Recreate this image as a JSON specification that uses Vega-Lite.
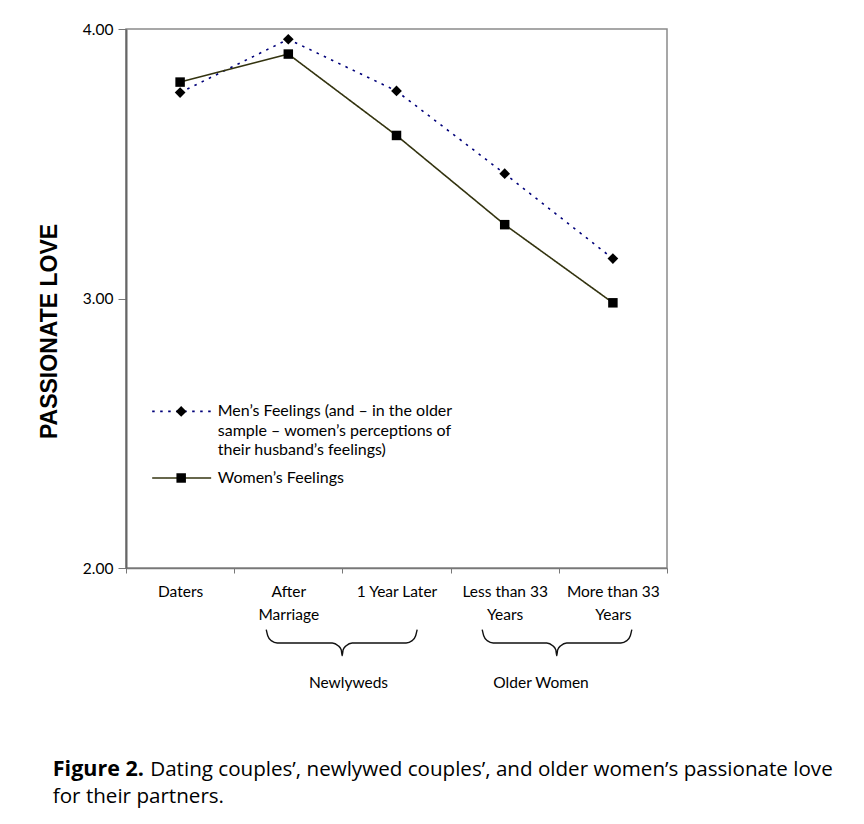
{
  "$schema": "https://vega.github.io/schema/vega-lite/v6.json",
  "width": 541,
  "height": 539,
  "autosize": {"type": "none"},
  "padding": {"left": 126, "top": 29, "right": 197, "bottom": 256},
  "background": "white",
  "config": {
    "view": {"stroke": "#8a8a8a", "strokeWidth": 1.5},
    "font": "Lato"
  },
  "datasets": {
    "series": [
      {"pos": 0, "cat": "Daters", "series": "Men", "val": 3.764},
      {"pos": 1, "cat": "After Marriage", "series": "Men", "val": 3.962},
      {"pos": 2, "cat": "1 Year Later", "series": "Men", "val": 3.770},
      {"pos": 3, "cat": "Less than 33 Years", "series": "Men", "val": 3.463},
      {"pos": 4, "cat": "More than 33 Years", "series": "Men", "val": 3.148},
      {"pos": 0, "cat": "Daters", "series": "Women", "val": 3.803},
      {"pos": 1, "cat": "After Marriage", "series": "Women", "val": 3.907},
      {"pos": 2, "cat": "1 Year Later", "series": "Women", "val": 3.605},
      {"pos": 3, "cat": "Less than 33 Years", "series": "Women", "val": 3.274},
      {"pos": 4, "cat": "More than 33 Years", "series": "Women", "val": 2.984}
    ],
    "legendLines": [
      {"pos": -0.258, "val": 2.581, "series": "Men"},
      {"pos": 0.287, "val": 2.581, "series": "Men"},
      {"pos": -0.258, "val": 2.334, "series": "Women"},
      {"pos": 0.287, "val": 2.334, "series": "Women"}
    ],
    "legendMarks": [
      {"pos": 0.010, "val": 2.581, "series": "Men"},
      {"pos": 0.010, "val": 2.334, "series": "Women"}
    ],
    "legendText": [
      {"pos": 0.348, "val": 2.581, "text": "Men’s Feelings (and – in the older"},
      {"pos": 0.348, "val": 2.510, "text": "sample – women’s perceptions of"},
      {"pos": 0.348, "val": 2.439, "text": "their husband’s feelings)"},
      {"pos": 0.348, "val": 2.334, "text": "Women’s Feelings"}
    ],
    "braces": [
      {"grp": "Newlyweds", "ord": 0, "pos": 0.796, "val": 1.7711},
      {"grp": "Newlyweds", "ord": 1, "pos": 0.810, "val": 1.7489},
      {"grp": "Newlyweds", "ord": 2, "pos": 0.842, "val": 1.7304},
      {"grp": "Newlyweds", "ord": 3, "pos": 0.898, "val": 1.7218},
      {"grp": "Newlyweds", "ord": 4, "pos": 1.406, "val": 1.7218},
      {"grp": "Newlyweds", "ord": 5, "pos": 1.461, "val": 1.7118},
      {"grp": "Newlyweds", "ord": 6, "pos": 1.489, "val": 1.6970},
      {"grp": "Newlyweds", "ord": 7, "pos": 1.498, "val": 1.6747},
      {"grp": "Newlyweds", "ord": 8, "pos": 1.507, "val": 1.6970},
      {"grp": "Newlyweds", "ord": 9, "pos": 1.535, "val": 1.7118},
      {"grp": "Newlyweds", "ord": 10, "pos": 1.590, "val": 1.7218},
      {"grp": "Newlyweds", "ord": 11, "pos": 2.089, "val": 1.7218},
      {"grp": "Newlyweds", "ord": 12, "pos": 2.145, "val": 1.7304},
      {"grp": "Newlyweds", "ord": 13, "pos": 2.177, "val": 1.7489},
      {"grp": "Newlyweds", "ord": 14, "pos": 2.191, "val": 1.7711},
      {"grp": "Older Women", "ord": 0, "pos": 2.792, "val": 1.7711},
      {"grp": "Older Women", "ord": 1, "pos": 2.806, "val": 1.7489},
      {"grp": "Older Women", "ord": 2, "pos": 2.838, "val": 1.7304},
      {"grp": "Older Women", "ord": 3, "pos": 2.894, "val": 1.7218},
      {"grp": "Older Women", "ord": 4, "pos": 3.389, "val": 1.7218},
      {"grp": "Older Women", "ord": 5, "pos": 3.444, "val": 1.7118},
      {"grp": "Older Women", "ord": 6, "pos": 3.472, "val": 1.6970},
      {"grp": "Older Women", "ord": 7, "pos": 3.481, "val": 1.6747},
      {"grp": "Older Women", "ord": 8, "pos": 3.490, "val": 1.6970},
      {"grp": "Older Women", "ord": 9, "pos": 3.518, "val": 1.7118},
      {"grp": "Older Women", "ord": 10, "pos": 3.573, "val": 1.7218},
      {"grp": "Older Women", "ord": 11, "pos": 4.073, "val": 1.7218},
      {"grp": "Older Women", "ord": 12, "pos": 4.129, "val": 1.7304},
      {"grp": "Older Women", "ord": 13, "pos": 4.161, "val": 1.7489},
      {"grp": "Older Women", "ord": 14, "pos": 4.175, "val": 1.7711}
    ],
    "groupLabels": [
      {"pos": 1.556, "val": 1.5745, "text": "Newlyweds"},
      {"pos": 3.336, "val": 1.5745, "text": "Older Women"}
    ],
    "captionBold": [
      {"pos": -1.1765, "val": 1.227, "text": "Figure 2."}
    ],
    "captionText": [
      {"pos": -0.2763, "val": 1.227, "text": "Dating couples’, newlywed couples’, and older women’s passionate love"},
      {"pos": -1.1765, "val": 1.1284, "text": "for their partners."}
    ]
  },
  "layer": [
    {
      "data": {"name": "series"},
      "mark": {"type": "line", "strokeWidth": 1.6},
      "encoding": {
        "x": {
          "field": "pos", "type": "quantitative",
          "scale": {"domain": [-0.5, 4.5], "nice": false, "zero": false},
          "axis": {
            "title": null,
            "values": [-0.5, 0.5, 1.5, 2.5, 3.5, 4.5],
            "labelExpr": "datum.value < 0 ? 'Daters' : datum.value < 1 ? ['After', 'Marriage'] : datum.value < 2 ? '1 Year Later' : datum.value < 3 ? ['Less than 33', 'Years'] : datum.value < 4 ? ['More than 33', 'Years'] : ''",
            "labelOffset": 54.1,
            "labelFlush": false,
            "labelOverlap": false,
            "labelAlign": "center",
            "labelBaseline": "top",
            "labelPadding": 11,
            "labelFontSize": 15.5,
            "labelFont": "Lato",
            "labelColor": "black",
            "labelLineHeight": 23,
            "tickSize": 5,
            "tickColor": "#777",
            "tickWidth": 1,
            "domainColor": "#777",
            "domainWidth": 1.5,
            "grid": false
          }
        },
        "y": {
          "field": "val", "type": "quantitative",
          "scale": {"domain": [2, 4], "nice": false, "zero": false},
          "axis": {
            "title": "PASSIONATE LOVE",
            "values": [2, 3, 4],
            "format": ".2f",
            "labelFontSize": 15.5,
            "labelFont": "Lato",
            "labelColor": "black",
            "labelPadding": 5,
            "tickSize": 8,
            "tickColor": "#777",
            "domainColor": "#666",
            "domainWidth": 2,
            "grid": false,
            "titleFont": "Liberation Sans",
            "titleFontSize": 23,
            "titleFontWeight": "bold",
            "titleColor": "black",
            "titleAngle": 270,
            "titleAlign": "center",
            "titleBaseline": "middle",
            "titleX": -77,
            "titleY": 302
          }
        },
        "color": {"field": "series", "type": "nominal", "scale": {"domain": ["Men", "Women"], "range": ["#00007a", "#33330f"]}, "legend": null},
        "strokeDash": {"field": "series", "type": "nominal", "scale": {"domain": ["Men", "Women"], "range": [[2.5, 5.5], [1, 0]]}, "legend": null},
        "order": {"field": "pos", "type": "quantitative"}
      }
    },
    {
      "data": {"name": "legendLines"},
      "mark": {"type": "line", "strokeWidth": 1.6},
      "encoding": {
        "x": {"field": "pos", "type": "quantitative"},
        "y": {"field": "val", "type": "quantitative"},
        "color": {"field": "series", "type": "nominal", "legend": null},
        "strokeDash": {"field": "series", "type": "nominal", "legend": null}
      }
    },
    {
      "data": {"name": "series"},
      "mark": {"type": "point", "filled": true, "color": "black", "opacity": 1},
      "encoding": {
        "x": {"field": "pos", "type": "quantitative"},
        "y": {"field": "val", "type": "quantitative"},
        "shape": {"field": "series", "type": "nominal", "scale": {"domain": ["Men", "Women"], "range": ["diamond", "square"]}, "legend": null},
        "size": {"field": "series", "type": "ordinal", "scale": {"domain": ["Men", "Women"], "range": [115, 90]}, "legend": null}
      }
    },
    {
      "data": {"name": "legendMarks"},
      "mark": {"type": "point", "filled": true, "color": "black", "opacity": 1},
      "encoding": {
        "x": {"field": "pos", "type": "quantitative"},
        "y": {"field": "val", "type": "quantitative"},
        "shape": {"field": "series", "type": "nominal", "legend": null},
        "size": {"field": "series", "type": "ordinal", "legend": null}
      }
    },
    {
      "data": {"name": "legendText"},
      "mark": {"type": "text", "align": "left", "baseline": "middle", "font": "Lato", "fontSize": 16, "color": "black"},
      "encoding": {
        "x": {"field": "pos", "type": "quantitative"},
        "y": {"field": "val", "type": "quantitative"},
        "text": {"field": "text", "type": "nominal"}
      }
    },
    {
      "data": {"name": "braces"},
      "mark": {"type": "line", "color": "#111", "strokeWidth": 1.4, "interpolate": "monotone"},
      "encoding": {
        "x": {"field": "pos", "type": "quantitative"},
        "y": {"field": "val", "type": "quantitative"},
        "detail": {"field": "grp", "type": "nominal"},
        "order": {"field": "ord", "type": "quantitative"}
      }
    },
    {
      "data": {"name": "groupLabels"},
      "mark": {"type": "text", "align": "center", "baseline": "middle", "font": "Lato", "fontSize": 15.5, "color": "black"},
      "encoding": {
        "x": {"field": "pos", "type": "quantitative"},
        "y": {"field": "val", "type": "quantitative"},
        "text": {"field": "text", "type": "nominal"}
      }
    },
    {
      "data": {"name": "captionBold"},
      "mark": {"type": "text", "align": "left", "baseline": "alphabetic", "font": "Open Sans", "fontSize": 21.5, "fontWeight": "bold", "color": "black"},
      "encoding": {
        "x": {"field": "pos", "type": "quantitative"},
        "y": {"field": "val", "type": "quantitative"},
        "text": {"field": "text", "type": "nominal"}
      }
    },
    {
      "data": {"name": "captionText"},
      "mark": {"type": "text", "align": "left", "baseline": "alphabetic", "font": "Open Sans", "fontSize": 20.6, "color": "black"},
      "encoding": {
        "x": {"field": "pos", "type": "quantitative"},
        "y": {"field": "val", "type": "quantitative"},
        "text": {"field": "text", "type": "nominal"}
      }
    }
  ]
}
